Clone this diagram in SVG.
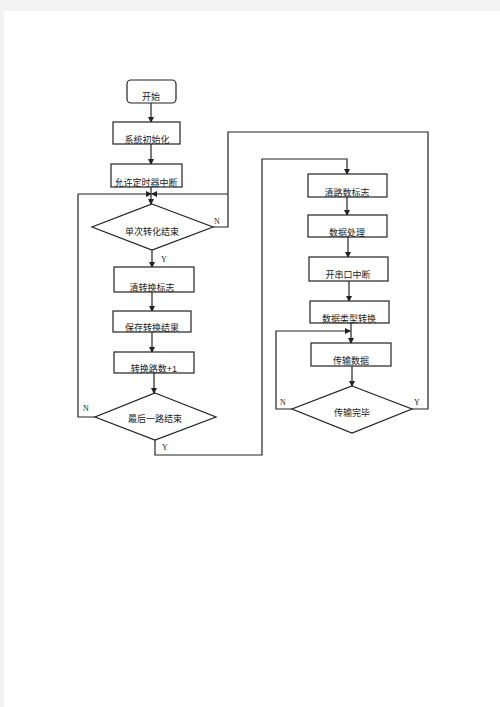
<svg xmlns="http://www.w3.org/2000/svg" width="500" height="707" viewBox="0 0 500 707">
<style>
.b{fill:#fff;stroke:#222;stroke-width:1.2}
.t{font-family:"Liberation Sans","Noto Sans CJK SC",sans-serif;font-size:9px;fill:#222;text-anchor:middle}
.l{font-family:"Liberation Serif",serif;font-size:8px;fill:#222}
.c{fill:none;stroke:#222;stroke-width:1.2}
</style>
<defs>
<marker id="a" markerWidth="6" markerHeight="6" refX="5" refY="3" orient="auto" markerUnits="userSpaceOnUse">
<path d="M0,0 L6,3 L0,6 z" fill="#222"/>
</marker>
</defs>
<rect x="0" y="0" width="500" height="707" fill="#f3f3f3"/>
<rect x="4" y="11" width="496" height="696" fill="#fff"/>
<g id="connectors">
<path class="c" d="M151,103 V122" marker-end="url(#a)"/>
<path class="c" d="M151,144 V164" marker-end="url(#a)"/>
<path class="c" d="M151,187 V204" marker-end="url(#a)"/>
<path class="c" d="M78,194 H151" marker-end="url(#a)"/>
<path class="c" d="M228,194 H152" marker-end="url(#a)"/>
<path class="c" d="M213,227 H228 V132 H428 V409 H412"/>
<path class="c" d="M152,250 V267" marker-end="url(#a)"/>
<path class="c" d="M152,292 V311" marker-end="url(#a)"/>
<path class="c" d="M152,332 V352" marker-end="url(#a)"/>
<path class="c" d="M154,373 V393" marker-end="url(#a)"/>
<path class="c" d="M95,417 H78 V194"/>
<path class="c" d="M155,439 V455 H262 V159 H347 V174" marker-end="url(#a)"/>
<path class="c" d="M347,197 V215" marker-end="url(#a)"/>
<path class="c" d="M348,237 V257" marker-end="url(#a)"/>
<path class="c" d="M349,281 V301" marker-end="url(#a)"/>
<path class="c" d="M351,323 V343" marker-end="url(#a)"/>
<path class="c" d="M292,409 H276 V331 H350" marker-end="url(#a)"/>
<path class="c" d="M352,366 V386" marker-end="url(#a)"/>
<text class="l" x="214" y="224">N</text>
<text class="l" x="161" y="262">Y</text>
<text class="l" x="83" y="411">N</text>
<text class="l" x="162" y="450">Y</text>
<text class="l" x="280" y="405">N</text>
<text class="l" x="414" y="405">Y</text>
</g>
<g id="start"><rect class="b" x="127" y="80" width="49" height="23" rx="4"/><text class="t" x="151" y="100">开始</text></g>
<g id="init"><rect class="b" x="113" y="122" width="67" height="22"/><text class="t" x="147" y="143">系统初始化</text></g>
<g id="timer"><rect class="b" x="111" y="164" width="71" height="23"/><text class="t" x="146" y="186">允许定时器中断</text></g>
<g id="d1"><polygon class="b" points="152,204 213,227 152,250 92,227"/><text class="t" x="152" y="235">单次转化结束</text></g>
<g id="clr"><rect class="b" x="114" y="267" width="80" height="25"/><text class="t" x="152" y="291">清转换标志</text></g>
<g id="save"><rect class="b" x="113" y="311" width="78" height="21"/><text class="t" x="152" y="331">保存转换结果</text></g>
<g id="inc"><rect class="b" x="114" y="352" width="80" height="21"/><text class="t" x="154" y="372">转换路数+1</text></g>
<g id="d2"><polygon class="b" points="155,393 216,417 155,440 95,417"/><text class="t" x="155" y="422">最后一路结束</text></g>
<g id="clr2"><rect class="b" x="308" y="174" width="79" height="23"/><text class="t" x="347" y="196">清路数标志</text></g>
<g id="proc"><rect class="b" x="308" y="215" width="79" height="22"/><text class="t" x="347" y="236">数据处理</text></g>
<g id="uart"><rect class="b" x="309" y="257" width="79" height="24"/><text class="t" x="348" y="278">开串口中断</text></g>
<g id="conv"><rect class="b" x="310" y="301" width="79" height="22"/><text class="t" x="349" y="322">数据类型转换</text></g>
<g id="tx"><rect class="b" x="311" y="343" width="80" height="23"/><text class="t" x="351" y="364">传输数据</text></g>
<g id="d3"><polygon class="b" points="352,386 412,409 352,433 292,409"/><text class="t" x="352" y="416">传输完毕</text></g>
</svg>
